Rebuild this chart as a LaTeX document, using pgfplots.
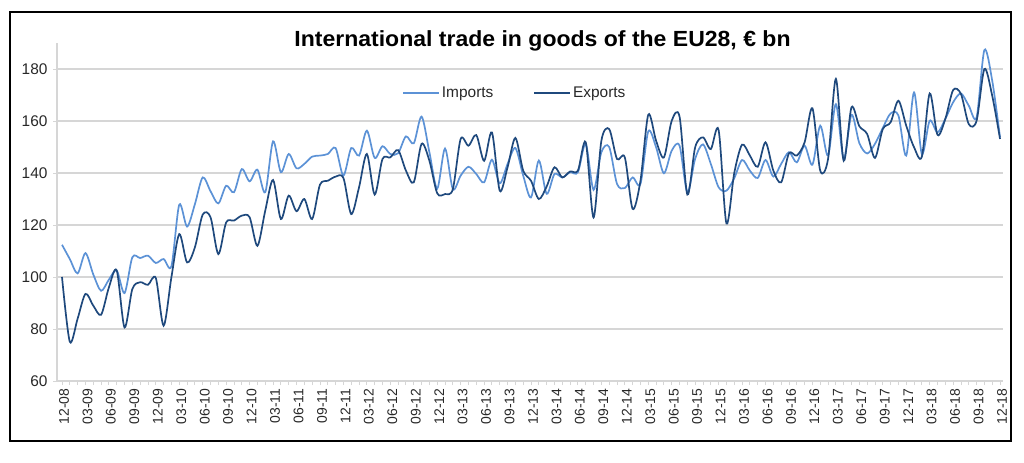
\documentclass[border=0pt]{standalone}
\usepackage{pgfplots}
\pgfplotsset{compat=1.18}
\usepackage{pgfplotstable}
\usepackage{fontspec}
\setmainfont{Liberation Sans}

\definecolor{impblue}{RGB}{92,146,214}
\definecolor{expblue}{RGB}{31,73,125}
\definecolor{gridgray}{RGB}{214,214,214}
\definecolor{labelgray}{RGB}{40,40,40}

% month labels
\newcommand\xl[1]{#1}

% EU28 monthly trade in goods, EUR bn (month 0 = 12-08)
\pgfplotstableread{
m imp exp
0 112.4 100.0
1 106.9 75.1
2 101.4 84.0
3 109.2 93.5
4 101.0 89.0
5 94.7 85.5
6 99.0 96.0
7 102.5 102.5
8 93.8 80.6
9 107.6 95.4
10 107.3 98.0
11 108.2 97.0
12 105.4 99.6
13 106.9 81.3
14 104.2 100.0
15 127.8 116.5
16 119.4 105.6
17 128.0 111.4
18 138.3 124.0
19 133.0 123.0
20 128.3 108.8
21 135.1 121.0
22 132.6 121.7
23 141.5 123.6
24 136.8 123.0
25 141.3 112.0
26 132.6 125.5
27 152.2 137.3
28 140.3 122.3
29 147.3 131.3
30 141.8 125.3
31 143.5 130.0
32 146.3 122.3
33 146.7 135.5
34 147.3 137.0
35 149.6 138.6
36 139.0 138.1
37 149.6 124.2
38 146.7 134.5
39 156.3 147.3
40 145.8 131.7
41 150.3 145.4
42 147.3 146.0
43 147.6 148.8
44 154.1 140.9
45 151.4 136.4
46 161.7 151.2
47 148.0 144.7
48 134.0 132.2
49 149.4 131.9
50 133.8 133.8
51 139.0 153.1
52 142.4 150.5
53 139.6 154.6
54 136.4 144.7
55 145.1 155.6
56 136.0 133.2
57 143.5 142.2
58 149.6 153.5
59 139.0 140.9
60 130.6 137.0
61 144.8 130.0
62 132.0 134.8
63 139.6 142.2
64 138.3 138.3
65 140.3 140.6
66 140.3 140.9
67 151.2 151.8
68 133.5 122.9
69 148.0 152.4
70 150.0 156.9
71 135.8 145.4
72 134.2 146.0
73 138.3 126.2
74 135.8 137.0
75 156.0 162.4
76 149.9 152.4
77 139.9 146.0
78 148.6 160.1
79 150.5 161.7
80 132.6 131.7
81 145.5 149.9
82 151.0 153.7
83 143.5 149.2
84 134.5 156.5
85 133.2 120.6
86 138.0 140.0
87 145.0 150.9
88 140.9 146.7
89 138.1 142.4
90 145.0 151.8
91 138.6 140.9
92 143.5 136.4
93 148.0 147.6
94 144.1 146.7
95 150.5 151.8
96 143.2 164.9
97 158.2 140.9
98 146.7 145.4
99 166.5 176.2
100 145.4 144.7
101 162.4 165.3
102 151.5 158.0
103 147.5 155.0
104 151.2 145.8
105 157.3 156.9
106 162.9 159.5
107 162.1 167.8
108 146.7 158.2
109 171.0 149.9
110 147.3 146.3
111 160.1 170.6
112 155.6 154.7
113 160.8 160.8
114 167.2 171.9
115 170.6 170.4
116 165.9 158.8
117 161.4 160.1
118 187.3 180.0
119 175.5 169.7
120 153.7 153.1
}\trade

\begin{document}
\begin{tikzpicture}
% page frame
\useasboundingbox (0bp,0bp) rectangle (1024bp,463bp);
\draw[line width=1.4bp] (10bp,22bp) rectangle (1011bp,451bp);
\node[anchor=base, font=\fontsize{22}{26}\selectfont\bfseries, text=black]
  at (542.5bp,416.3bp) {\scalebox{1.05}[1]{International trade in goods of the EU28, € bn}};

\begin{axis}[
  at={(57bp,82bp)}, anchor=south west,
  scale only axis, width=946bp, height=338bp,
  xmin=-0.64, xmax=120.38, ymin=60, ymax=190,
  ytick={60,80,...,180},
  xtick={0,3,...,120},
  minor xtick={0,...,120},
  xticklabels={\xl{12-08},\xl{03-09},\xl{06-09},\xl{09-09},\xl{12-09},
    \xl{03-10},\xl{06-10},\xl{09-10},\xl{12-10},
    \xl{03-11},\xl{06-11},\xl{09-11},\xl{12-11},
    \xl{03-12},\xl{06-12},\xl{09-12},\xl{12-12},
    \xl{03-13},\xl{06-13},\xl{09-13},\xl{12-13},
    \xl{03-14},\xl{06-14},\xl{09-14},\xl{12-14},
    \xl{03-15},\xl{06-15},\xl{09-15},\xl{12-15},
    \xl{03-16},\xl{06-16},\xl{09-16},\xl{12-16},
    \xl{03-17},\xl{06-17},\xl{09-17},\xl{12-17},
    \xl{03-18},\xl{06-18},\xl{09-18},\xl{12-18}},
  axis lines*=left,
  axis line style={gridgray, line width=1.3bp},
  ymajorgrids,
  grid style={gridgray, line width=1.3bp},
  tick style={gridgray, line width=0.9bp},
  tick align=outside,
  major tick length=4bp, minor tick length=4bp,
  /pgf/number format/assume math mode=true,
  yticklabel style={font=\fontsize{15.5}{18}\selectfont, text=labelgray, xshift=-2bp},
  xticklabel style={rotate=90, anchor=east, font=\fontsize{14}{16}\selectfont,
    text=labelgray, yshift=-2bp},
  legend style={at={(0.484,0.852)}, anchor=center, draw=none, fill=none,
    font=\fontsize{15.5}{18}\selectfont, text=labelgray,
    legend columns=2,
    /tikz/every even column/.append style={column sep=38bp}},
  legend image code/.code={\draw[#1] (0bp,0bp) -- (36bp,0bp);},
  clip=false,
]
\addplot[impblue, line width=1.7bp, smooth, tension=0.5] table[x=m, y=imp] {\trade};
\addlegendentry{Imports}
\addplot[expblue, line width=1.7bp, smooth, tension=0.5] table[x=m, y=exp] {\trade};
\addlegendentry{Exports}
\end{axis}
\end{tikzpicture}
\end{document}
